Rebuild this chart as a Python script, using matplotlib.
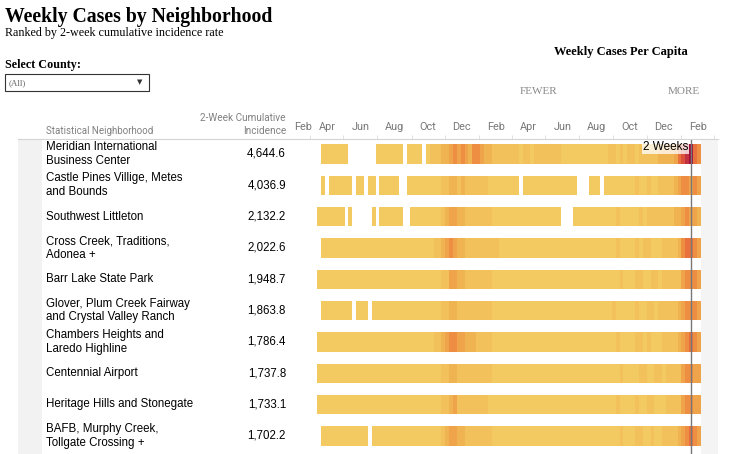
import matplotlib

matplotlib.use("Agg")
import matplotlib.dates as mdates  # noqa: E402
import matplotlib.pyplot as plt  # noqa: E402
import numpy as np  # noqa: E402
from matplotlib.colors import ListedColormap  # noqa: E402
from matplotlib.lines import Line2D  # noqa: E402
from matplotlib.patches import Rectangle  # noqa: E402

NEIGHBORHOODS = [
    "Meridian International\nBusiness Center",
    "Castle Pines Villige, Metes\nand Bounds",
    "Southwest Littleton",
    "Cross Creek, Traditions,\nAdonea +",
    "Barr Lake State Park",
    "Glover, Plum Creek Fairway\nand Crystal Valley Ranch",
    "Chambers Heights and\nLaredo Highline",
    "Centennial Airport",
    "Heritage Hills and Stonegate",
    "BAFB, Murphy Creek,\nTollgate Crossing +",
]
INCIDENCE = [4644.6, 4036.9, 2132.2, 2022.6, 1948.7, 1863.8, 1786.4, 1737.8, 1733.1, 1702.2]

WEEK_START = "2020-03-15"
N_WEEKS = 99
# weekly cases per capita, binned 0 (fewer) .. 9 (more); "." = no data, groups of 10 weeks
WEEKLY_LEVELS = [
    ".1111111.. .....11111 11.1111.12 2233454543 5543322222 2212212222 2221111111 1111122121 2212222233 334678965",
    ".1.111111. 11.11.1111 1..1111111 1122332322 2222111111 11.1111111 1111111... 111.111111 1121121122 223455454",
    "1111111.1. ....1.1111 11..111111 1123443322 2222211111 1111111111 111...1111 1111111211 1112122222 223345443",
    ".111111111 1111111111 1111111111 2234543322 2222222111 1111111111 1111111111 1111111211 1121221112 222356654",
    "1111111111 1111111111 1111111111 1122443322 2222211111 1111111111 1111111111 1111111121 1122112212 222245554",
    ".11111111. 111.111111 1111111111 1122332222 2222211111 1111111111 1111111111 1111112111 1121122122 222345554",
    "1111111111 1111111111 1111111111 2234554433 3222211111 1111111111 1111111111 1111111211 1122121112 222345654",
    "1111111111 1111111111 1111111111 1122332222 2222211111 1111111111 1111111111 1111111121 1112211221 222245544",
    "1111111111 1111111111 1111111111 1122342222 2222111111 1111111111 1111111111 1111111211 1121122111 222245544",
    ".111111111 111.111111 1111111111 1123443322 2222211111 1111111111 1111111111 1111111121 1122112112 222345654",
]
LINE_DATE = "2022-01-19"
XMIN, XMAX = "2020-01-29", "2022-03-09"

LEVEL_COLORS = ["#f5d36e", "#f3ca62", "#f2c15b", "#f0b352", "#efa34a",
                "#ed8e42", "#e8713d", "#dc503c", "#c3303f", "#9e103c"]

W, H = 736, 454


def fx(x):
    return x / W


def fy(y):
    return 1 - y / H


def parse(s):
    s = s.replace(" ", "")
    return np.ma.masked_invalid([np.nan if c == "." else float(c) for c in s])


fig = plt.figure(figsize=(W / 100, H / 100), dpi=100)
fig.patch.set_facecolor("white")

serif = "Liberation Serif"
sans = "Liberation Sans"
cond = "Roboto"

# -- header texts --------------------------------------------------------------
fig.text(fx(5), fy(17), "Weekly Cases by Neighborhood", family=serif, weight="bold",
         size=14.2, va="center")
fig.text(fx(5), fy(33), "Ranked by 2-week cumulative incidence rate", family=serif,
         size=8.7, va="center")
fig.text(fx(5), fy(65), "Select County:", family=serif, weight="bold", size=8.7, va="center")
fig.add_artist(Rectangle((fx(5), fy(91)), fx(149) - fx(5), fy(74) - fy(91),
                         transform=fig.transFigure, fc="white", ec="#333333", lw=0.8))
fig.text(fx(9), fy(83), "(All)", family=serif, size=6.5, color="#666666", va="center")
fig.text(fx(140), fy(82), "▼", family="DejaVu Sans", size=5, color="#333333",
         ha="center", va="center")

fig.text(fx(621), fy(52), "Weekly Cases Per Capita", family=serif, weight="bold",
         size=9, ha="center", va="center")
fig.text(fx(538), fy(92), "FEWER", family=serif, size=8, color="#888888",
         ha="center", va="center")
fig.text(fx(684), fy(92), "MORE", family=serif, size=8, color="#888888",
         ha="center", va="center")

fig.text(fx(46), fy(131), "Statistical Neighborhood", family=cond, size=7,
         color="#808080", va="center")
fig.text(fx(286), fy(118), "2-Week Cumulative", family=cond, size=7.2,
         color="#808080", ha="right", va="center")
fig.text(fx(286), fy(131), "Incidence", family=cond, size=7.2,
         color="#808080", ha="right", va="center")

# left band + header rule
fig.add_artist(Rectangle((fx(18), 0), fx(42) - fx(18), fy(139), transform=fig.transFigure,
                         fc="#f2f2f2", ec="none", zorder=0))
fig.add_artist(Line2D([fx(18), fx(718)], [fy(139), fy(139)], transform=fig.transFigure,
                      color="#d4d4d4", lw=0.8))

# -- heatmap -------------------------------------------------------------------
ax = fig.add_axes([fx(292), 0, fx(718) - fx(292), fy(139)])
cmap = ListedColormap(LEVEL_COLORS)
edges = mdates.date2num(np.datetime64(WEEK_START) + np.arange(N_WEEKS + 1) * np.timedelta64(7, "D"))
half = 0.31
for i, row in enumerate(WEEKLY_LEVELS):
    vals = parse(row)
    ax.pcolormesh(edges, [i - half, i + half], vals[None, :], cmap=cmap,
                  vmin=-0.5, vmax=len(LEVEL_COLORS) - 0.5, shading="flat")

x0, x1 = mdates.date2num(np.datetime64(XMIN)), mdates.date2num(np.datetime64(XMAX))
ax.axvspan(edges[-1], x1, color="#f4f4f4", zorder=0, lw=0)
ax.set_xlim(x0, x1)
ax.set_ylim(len(NEIGHBORHOODS) - 0.42, -0.48)
ax.set_yticks([])
for s in ax.spines.values():
    s.set_visible(False)

ax.xaxis.set_ticks_position("top")
ax.xaxis.set_major_locator(mdates.MonthLocator(bymonth=[2, 4, 6, 8, 10, 12]))
ax.xaxis.set_major_formatter(mdates.DateFormatter("%b"))
ax.xaxis.set_minor_locator(mdates.MonthLocator())
ax.tick_params(axis="x", which="major", length=0, pad=5, labelsize=7.8, labelcolor="#777777")
ax.tick_params(axis="x", which="minor", length=3, color="#dddddd", width=0.6)
for lab in ax.get_xticklabels():
    lab.set_family(cond)
labs = ax.get_xticklabels()
labs[0].set_horizontalalignment("left")

line_x = mdates.date2num(np.datetime64(LINE_DATE))
ax.axvline(line_x, color="#777777", lw=1, zorder=5)
ax.annotate("2 Weeks", xy=(line_x, -0.23), xytext=(-2, 0), textcoords="offset points",
            ha="right", va="center", family=sans, size=8.5, zorder=6,
            bbox=dict(fc="white", ec="none", alpha=0.75, pad=0.6))

# -- row labels ------------------------------------------------------------------
for i, (name, val) in enumerate(zip(NEIGHBORHOODS, INCIDENCE)):
    yc = 154 + i * 31.3
    fig.text(fx(46), fy(yc), name, family=sans, size=8.3, va="center", linespacing=1.2)
    fig.text(fx(286), fy(yc), f"{val:,.1f}", family=sans, size=8.3, ha="right", va="center")

fig.savefig("out.png", dpi=100)
